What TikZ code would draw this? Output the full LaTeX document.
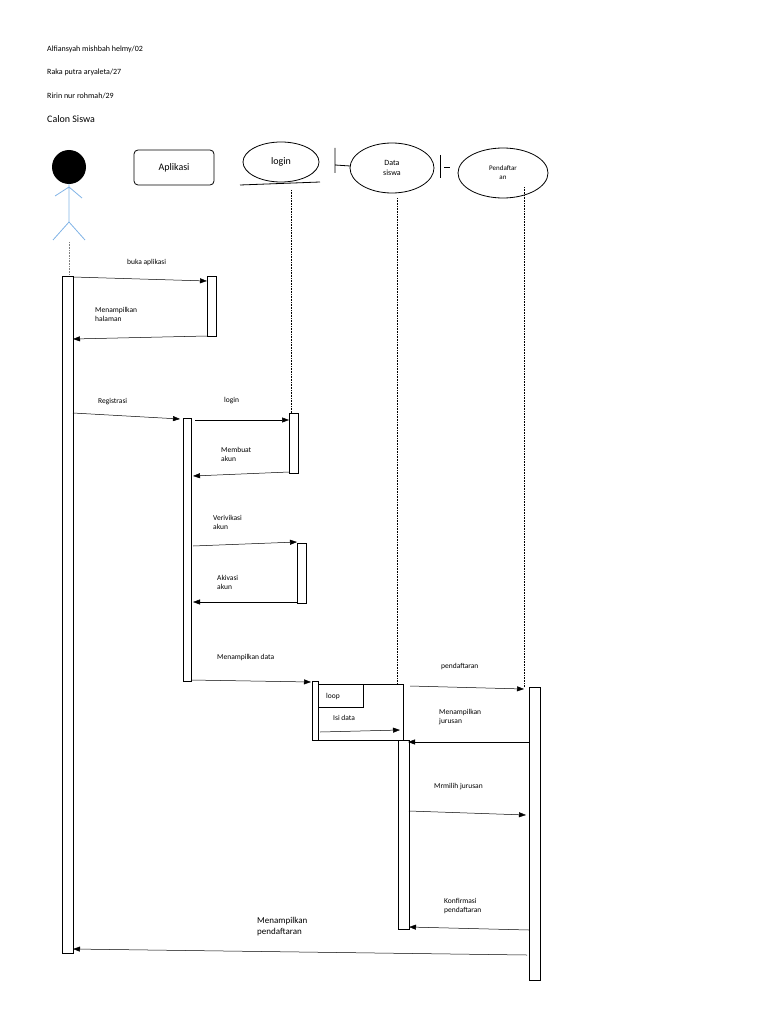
\documentclass[tikz,border=0pt]{standalone}
\usepackage{fontspec}
\setmainfont{Carlito}
\usetikzlibrary{arrows.meta}
\begin{document}
\begin{tikzpicture}[x=1pt,y=-1pt,
  msg/.style={-{Triangle[length=7pt,width=5pt]},line width=0.5pt},
  act/.style={draw,fill=white,line width=0.8pt},
  life/.style={densely dotted,line width=0.6pt},
  lbl/.style={font=\fontsize{7.5}{9}\selectfont,align=left,anchor=west,inner sep=0pt},
  head/.style={draw,line width=0.8pt}]
\useasboundingbox (0,0) rectangle (768,1024);
\node[lbl,font=\fontsize{8}{9}\selectfont] (t1) at (47,49) {Alfiansyah mishbah helmy/02};
\node[lbl,font=\fontsize{8}{9}\selectfont] (t2) at (47,72) {Raka putra aryaleta/27};
\node[lbl,font=\fontsize{8}{9}\selectfont] (t3) at (47,96) {Ririn nur rohmah/29};
\node[lbl,font=\fontsize{10}{12}\selectfont] (t4) at (47,119) {Calon Siswa};
% actor
\fill (69,167) circle (17);
\draw[color={rgb,255:red,130;green,180;blue,230},line width=0.8pt] (69,184)--(69,222) (69,187)--(55,196) (69,187)--(82,198) (69,222)--(53,240) (69,222)--(85,240);
\draw[life,gray] (69,242)--(69,275);
% heads
\node[head,rounded corners=4pt,minimum width=80pt,minimum height=35pt,font=\fontsize{10}{12}\selectfont] (apl) at (174,167.5) {Aplikasi};
\draw[head] (281,162) ellipse (38 and 20);
\node[font=\fontsize{10}{12}\selectfont] (lg) at (281,162) {login};
\draw[line width=0.8pt] (240,185)--(320,182);
\draw[head] (392,168) ellipse (42 and 25);
\node[font=\fontsize{8}{10}\selectfont,align=center] (ds) at (392,168) {Data\\siswa};
\draw[line width=0.8pt] (335,148)--(335,173) (335,165)--(350,166);
\draw[head] (503,173) ellipse (45 and 25);
\node[font=\fontsize{7}{9}\selectfont,align=center] (pd) at (503,173) {Pendaftar\\an};
\draw[line width=0.8pt] (440,155)--(440,178) (444,167)--(450,167);
\draw[life] (291,190)--(291,413);
\draw[life] (397,198)--(397,740);
\draw[life] (524,187)--(524,687);
% activations
\draw[act] (62,276) rectangle (73,953);
\draw[act] (207,276) rectangle (216,336);
\draw[act] (183,418) rectangle (191,681);
\draw[act] (289,413) rectangle (298,473);
\draw[act] (297,543) rectangle (306,603);
\draw[act] (312,681) rectangle (318,740);
\draw[act] (318,684) rectangle (403,740);
\draw[act] (318,684) rectangle (363,707);
\node[lbl] (loop) at (326,696) {loop};
\draw[act] (529,687) rectangle (540,980);
\draw[act] (398,740) rectangle (409,929);
% messages
\coordinate (a1) at (73,277); \coordinate (b1) at (207,281);
\draw[msg] (a1)--(b1); \node[lbl] (m1) at (127,262) {buka aplikasi};
\coordinate (a2) at (207,336); \coordinate (b2) at (73,339);
\draw[msg] (a2)--(b2); \node[lbl] (m2) at (95,314) {Menampilkan\\halaman};
\coordinate (a3) at (73,413); \coordinate (b3) at (180,419);
\draw[msg] (a3)--(b3); \node[lbl] (m3) at (98,402) {Registrasi};
\coordinate (a4) at (195,420); \coordinate (b4) at (289,420);
\draw[msg] (a4)--(b4); \node[lbl] (m4) at (224,401) {login};
\coordinate (a5) at (289,472); \coordinate (b5) at (193,476);
\draw[msg] (a5)--(b5); \node[lbl] (m5) at (221,454) {Membuat\\akun};
\coordinate (a6) at (193,546); \coordinate (b6) at (297,542);
\draw[msg] (a6)--(b6); \node[lbl] (m6) at (213,522) {Verivikasi\\akun};
\coordinate (a7) at (297,602); \coordinate (b7) at (193,602);
\draw[msg] (a7)--(b7); \node[lbl] (m7) at (217,582) {Akivasi\\akun};
\coordinate (a8) at (191,680); \coordinate (b8) at (311,682);
\draw[msg] (a8)--(b8); \node[lbl] (m8) at (217,657) {Menampilkan data};
\coordinate (a9) at (320,732); \coordinate (b9) at (400,730);
\draw[msg] (a9)--(b9); \node[lbl] (m9) at (333,718) {Isi data};
\coordinate (a10) at (410,686); \coordinate (b10) at (524,689);
\draw[msg] (a10)--(b10); \node[lbl] (m10) at (441,666) {pendaftaran};
\coordinate (a11) at (529,742); \coordinate (b11) at (408,742);
\draw[msg] (a11)--(b11); \node[lbl] (m11) at (439,717) {Menampilkan\\jurusan};
\coordinate (a12) at (409,811); \coordinate (b12) at (526,815);
\draw[msg] (a12)--(b12); \node[lbl] (m12) at (434,787) {Mrmilih jurusan};
\coordinate (a13) at (529,930); \coordinate (b13) at (409,927);
\draw[msg] (a13)--(b13); \node[lbl] (m13) at (444,906) {Konfirmasi\\pendaftaran};
\coordinate (a14) at (527,955); \coordinate (b14) at (73,949);
\draw[msg] (a14)--(b14); \node[lbl,font=\fontsize{9}{11}\selectfont] (m14) at (257,927) {Menampilkan\\pendaftaran};
\end{tikzpicture}
\end{document}
